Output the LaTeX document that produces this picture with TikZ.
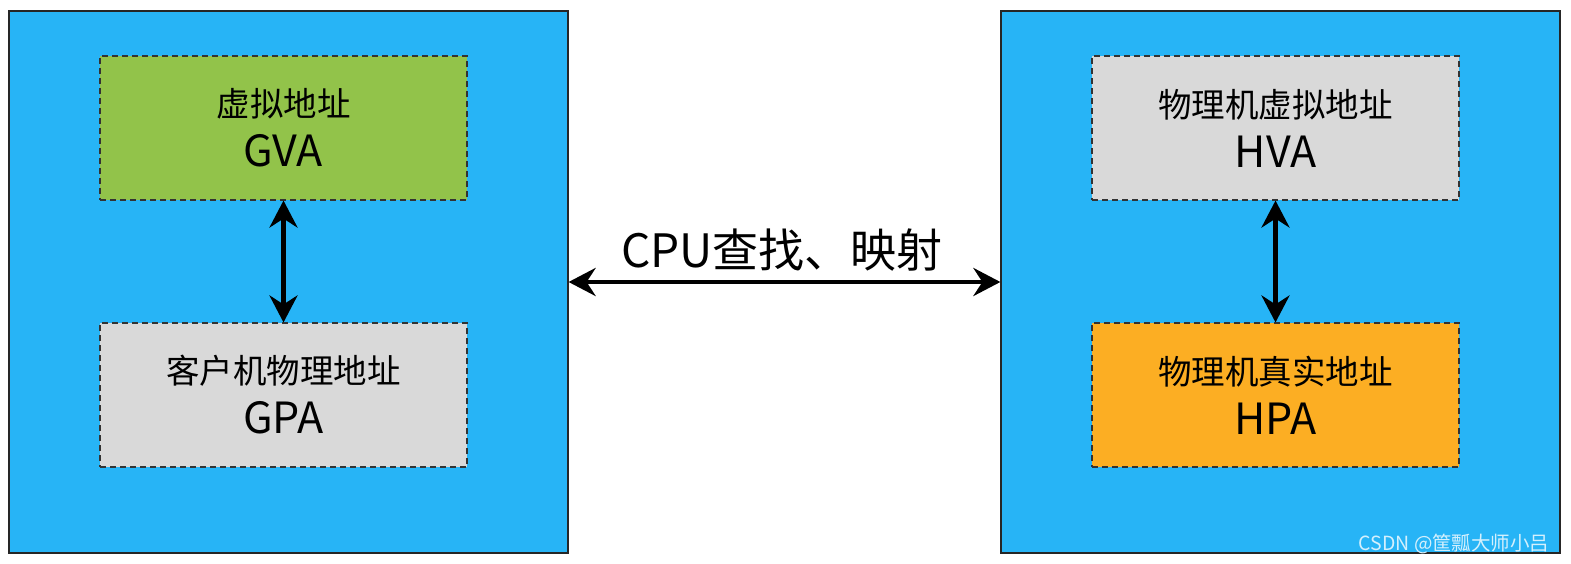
\documentclass[tikz,border=0pt]{standalone}
\usepackage{fontspec}
\setmainfont{Noto Sans CJK SC}
\usetikzlibrary{arrows.meta}

\definecolor{vmblue}{RGB}{39,180,246}
\definecolor{vagreen}{RGB}{146,195,74}
\definecolor{pagray}{RGB}{217,217,217}
\definecolor{hporange}{RGB}{252,174,35}

\tikzset{
  machine/.style={draw=black!85, line width=1.2pt, fill=vmblue,
    minimum width=559pt, minimum height=542pt},
  addrbox/.style={draw=black!80, line width=1.1pt, dash pattern=on 6pt off 4pt,
    minimum width=367pt, minimum height=144pt, align=center, inner sep=0pt,
    font=\fontsize{33.5}{50}\selectfont},
  link/.style={line width=4.5pt, {Stealth[length=27pt,width=28pt,inset=9pt]}-{Stealth[length=27pt,width=28pt,inset=9pt]}}
}

\newcommand{\addrtext}[2]{#1\\\fontsize{43}{50}\selectfont #2}

\begin{document}
\begin{tikzpicture}[x=1pt,y=-1pt]

% Canvas
\useasboundingbox (0,0) rectangle (1571,564);

% Guest and host machines
\node (guest) [machine] at (288.5,282) {};
\node (host) [machine] at (1280.5,282) {};

% Address boxes inside the guest
\node (gva) [addrbox, fill=vagreen] at (283.5,128) {\addrtext{虚拟地址}{GVA}};
\node (gpa) [addrbox, fill=pagray] at (283.5,395) {\addrtext{客户机物理地址}{GPA}};

% Address boxes inside the host
\node (hva) [addrbox, fill=pagray] at (1275.5,128) {\addrtext{物理机虚拟地址}{HVA}};
\node (hpa) [addrbox, fill=hporange] at (1275.5,395) {\addrtext{物理机真实地址}{HPA}};

% Arrows
\draw[link] (gva) -- (gpa);
\draw[link] (hva) -- (hpa);
\draw[link] (guest.east) -- (host.west);

% Label of the middle arrow
\node (cpu) at (782,250) {\fontsize{46}{50}\selectfont CPU查找、映射};

% Watermark
\node (mark) [text=white!80!vmblue, anchor=base east] at (1553,550)
  {\fontsize{19.5}{22}\selectfont CSDN @筐瓢大师小吕};

\end{tikzpicture}
\end{document}
